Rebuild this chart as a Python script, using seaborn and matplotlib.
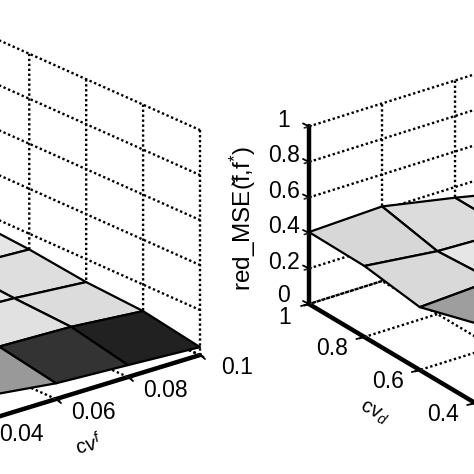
import numpy as np
import matplotlib
matplotlib.use("Agg")
import matplotlib.pyplot as plt
from matplotlib.lines import Line2D
from mpl_toolkits.mplot3d import proj3d
import seaborn as sns

cv_f = [0.02, 0.04, 0.06, 0.08, 0.1]
cv_d = [0.2, 0.4, 0.6, 0.8, 1.0]
z_ticks = [0, 0.2, 0.4, 0.6, 0.8, 1]
cv_f_shown = [0.04, 0.06, 0.08, 0.1]
cv_f_labels = ["0.04", "0.06", "0.08", "0.1"]
cv_d_shown = [0.4, 0.6, 0.8, 1.0]
cv_d_labels = ["0.4", "0.6", "0.8", "1"]
z_labels = ["0", "0.2", "0.4", "0.6", "0.8", "1"]

left_z = [[0.12, 0.11, 0.07, 0.053, 0.035],
          [0.14, 0.13, 0.12, 0.11, 0.082],
          [0.15, 0.14, 0.14, 0.124, 0.098],
          [0.16, 0.15, 0.15, 0.145, 0.13],
          [0.17, 0.17, 0.16, 0.155, 0.15]]
left_shade = [[0.55, 0.6, 0.2, 0.13, 0.13],
              [0.85, 0.9, 0.88, 0.86, 0.86],
              [0.9, 0.92, 0.9, 0.87, 0.87],
              [0.9, 0.92, 0.92, 0.9, 0.9],
              [0.9, 0.92, 0.92, 0.9, 0.9]]
right_z = [[0.45, 0.45, 0.4, 0.35, 0.3],
           [0.45, 0.45, 0.4, 0.35, 0.3],
           [0.354, 0.376, 0.35, 0.3, 0.25],
           [0.40, 0.354, 0.34, 0.3, 0.25],
           [0.405, 0.42, 0.34, 0.25, 0.2]]
right_shade = [[0.6, 0.6, 0.7, 0.8, 0.8],
               [0.62, 0.6, 0.7, 0.8, 0.8],
               [0.85, 0.9, 0.88, 0.85, 0.85],
               [0.84, 0.86, 0.9, 0.9, 0.9],
               [0.84, 0.86, 0.9, 0.9, 0.9]]

sns.set_theme(style="white")
plt.rcParams["font.family"] = ["Liberation Sans", "DejaVu Sans"]
plt.rcParams["mathtext.fontset"] = "custom"
plt.rcParams["mathtext.rm"] = "Liberation Sans"
plt.rcParams["mathtext.it"] = "Liberation Sans:italic"
plt.rcParams["mathtext.bf"] = "Liberation Sans:bold"
plt.rcParams["text.color"] = "black"
gray = sns.color_palette("gray", as_cmap=True)

W = 474
fig = plt.figure(figsize=(4.74, 4.74), dpi=100, facecolor="white")


def to_px(ax, x, y, z):
    ax.apply_aspect()
    a, b, _ = proj3d.proj_transform(x, y, z, ax.get_proj())
    p = ax.transData.transform((a, b))
    return p[0], W - p[1]


def fit(ax, p0, t0, p1, t1):
    """Scale and move the axes so that two floor corners land on their pixels."""
    for _ in range(3):
        a0, a1 = np.array(to_px(ax, *p0)), np.array(to_px(ax, *p1))
        k = np.hypot(*(np.array(t1) - np.array(t0))) / np.hypot(*(a1 - a0))
        pos = ax.get_position(original=True)
        ax.set_position([pos.x0, pos.y0, pos.width * k, pos.height * k])
        a0 = np.array(to_px(ax, *p0))
        pos = ax.get_position(original=True)
        ax.set_position([pos.x0 + (t0[0] - a0[0]) / W,
                         pos.y0 - (t0[1] - a0[1]) / W, pos.width, pos.height])


def panel(z_vals, shades, elev, azim, aspect, p0, t0, p1, t1):
    ax = fig.add_axes([0.1, 0.1, 0.8, 0.8], projection="3d", proj_type="ortho")
    ax.set_facecolor("none")
    ax.view_init(elev=elev, azim=azim)
    ax.set_xlim(cv_f[0], cv_f[-1], view_margin=0)
    ax.set_ylim(cv_d[0], cv_d[-1], view_margin=0)
    ax.set_zlim(0, 1, view_margin=0)
    ax.set_box_aspect(aspect)
    X, Y = np.meshgrid(cv_f, cv_d)
    ax.plot_surface(X, Y, np.array(z_vals), rstride=1, cstride=1,
                    facecolors=gray(np.array(shades)), shade=False,
                    edgecolor="black", linewidth=1.6, antialiased=True)
    ax.set_xticks(cv_f)
    ax.set_yticks(cv_d)
    ax.set_zticks(z_ticks)
    ax.set_xticklabels([])
    ax.set_yticklabels([])
    ax.set_zticklabels([])
    for axis in (ax.xaxis, ax.yaxis, ax.zaxis):
        axis.set_pane_color((1, 1, 1, 0))
        axis.pane.set_edgecolor("none")
        axis.line.set_color("black")
        axis.line.set_linewidth(3.2)
        axis._axinfo["grid"].update(color="black", linestyle=(0, (1, 1.1)), linewidth=1.7)
    fit(ax, p0, t0, p1, t1)
    return ax


def tick_text(ax, label, pt, dx, dy):
    px, py = to_px(ax, *pt)
    fig.text((px + dx) / W, 1 - (py + dy) / W, label, ha="center", va="center",
             fontsize=16.5, color="black")


def tick_mark(ax, pt, dx, dy):
    px, py = to_px(ax, *pt)
    fig.add_artist(Line2D([px / W, (px + dx) / W], [1 - py / W, 1 - (py + dy) / W],
                          color="black", linewidth=1.3, transform=fig.transFigure))


left = panel(left_z, left_shade, 21.7, -129.6, (373.6, 357.0, 242.0),
             (0.1, 0.2, 0), (200, 355), (0.02, 0.2, 0), (-88, 443))
right = panel(right_z, right_shade, 25.65, -126.0, (361.0, 377.0, 197.0),
              (0.02, 1.0, 0), (309, 304), (0.1, 1.0, 0), (601, 212))

for v, lab in zip(cv_f_shown, cv_f_labels):
    tick_text(left, lab, (v, 0.2, 0), 37, 13)
    tick_mark(left, (v, 0.2, 0), 5, 4)
for v, lab in zip(cv_d_shown, cv_d_labels):
    dx, dy = (-24, 13) if lab == "1" else (-32, 11.5)
    tick_text(right, lab, (0.02, v, 0), dx, dy)
    tick_mark(right, (0.02, v, 0), -8, 2)
for v, lab in zip(z_ticks, z_labels):
    px, py = to_px(right, 0.02, 1.0, v)
    off = 9 if lab == "0" else 6
    fig.text(284 / W, 1 - (py - off) / W, lab, ha="center", va="center", fontsize=16.5)
    tick_mark(right, (0.02, 1.0, v), -6, -3)

fig.text(88 / W, 1 - 445 / W, r"cv$^{\mathrm{f}}$", rotation=14, ha="center", va="center",
         fontsize=14.5, rotation_mode="anchor")
fig.text(374 / W, 1 - 413 / W, r"cv$_{\mathit{d}}$", rotation=-28, ha="center", va="center",
         fontsize=14.5, rotation_mode="anchor")
fig.text(243 / W, 1 - 218 / W, r"red_MSE($\check{\mathrm{f}}$,f$^{*}$)", rotation=90,
         ha="center", va="center", fontsize=17.5)

fig.savefig("out.png", dpi=100)
